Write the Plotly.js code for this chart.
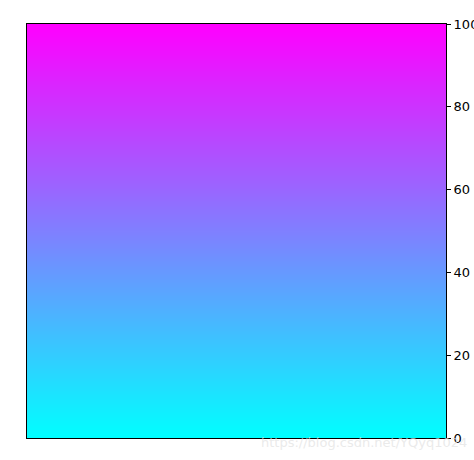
<!DOCTYPE html>
<html>
<head>
<meta charset="utf-8">
<script src="https://cdn.plot.ly/plotly-3.0.1.min.js"></script>
<style>
  html, body { margin: 0; padding: 0; background: #fff; }
  #chart { width: 474px; height: 460px; }
</style>
</head>
<body>
<div id="chart"></div>
<script>
// colorbar levels (bottom and top of the bar) and the 'cool' colormap ends
const levels = [0, 100];
const barCols = [0, 1];
const coolColors = ['rgb(0,255,255)', 'rgb(255,0,255)'];
const tickVals = [0, 20, 40, 60, 80, 100];
const tickText = ['0', '20', '40', '60', '80', '100'];

const z = levels.map(v => barCols.map(() => v));

const data = [
    {
        type: 'heatmap',
        x: barCols,
        y: levels,
        z: z,
        zmin: levels[0],
        zmax: levels[levels.length - 1],
        zsmooth: 'best',
        colorscale: [[0, coolColors[0]], [1, coolColors[1]]],
        showscale: false,
        hoverinfo: 'none'
    }
];

const layout = {
    width: 474,
    height: 460,
    margin: { l: 27, r: 28, t: 24, b: 22, pad: 0 },
    paper_bgcolor: '#fff',
    plot_bgcolor: '#fff',
    showlegend: false,
    xaxis: {
        range: [0, 1],
        showticklabels: false,
        ticks: '',
        showgrid: false,
        zeroline: false,
        showline: true,
        linecolor: '#000',
        linewidth: 1,
        mirror: true
    },
    yaxis: {
        side: 'right',
        range: [0, 100],
        tickvals: tickVals,
        ticktext: tickText,
        ticks: 'outside',
        ticklen: 4,
        tickwidth: 1,
        tickcolor: '#000',
        showgrid: false,
        zeroline: false,
        showline: true,
        linecolor: '#000',
        linewidth: 1,
        mirror: true,
        tickfont: { family: 'DejaVu Sans', size: 13, color: '#000' }
    },
    annotations: [
        {
            // faint blog watermark under the bar
            text: 'https://blog.csdn.net/YQyq1024',
            xref: 'paper', yref: 'paper',
            x: 1.055, y: 0, yshift: 5,
            xanchor: 'right', yanchor: 'top',
            showarrow: false,
            font: { family: 'DejaVu Sans', size: 13, color: 'rgba(225,225,225,0.7)' }
        }
    ]
};

Plotly.newPlot('chart', data, layout, { displayModeBar: false, staticPlot: true });
</script>
</body>
</html>
